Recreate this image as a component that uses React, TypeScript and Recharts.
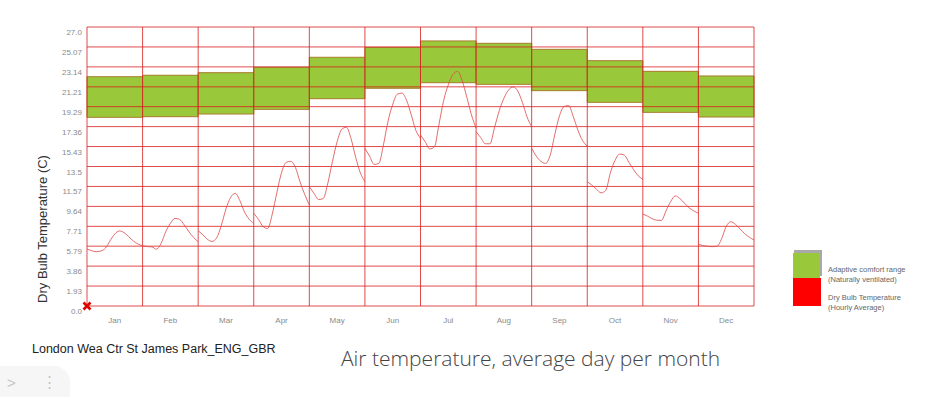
import {
  ComposedChart,
  Line,
  ReferenceArea,
  ReferenceDot,
  ReferenceLine,
  XAxis,
  YAxis,
} from "recharts";

const months = ["Jan", "Feb", "Mar", "Apr", "May", "Jun", "Jul", "Aug", "Sep", "Oct", "Nov", "Dec"];

// adaptive comfort band per month (C)
const comfortLow = [18.26, 18.32, 18.58, 19.03, 20.06, 21.07, 21.61, 21.45, 20.84, 19.71, 18.74, 18.29];
const comfortHigh = [22.19, 22.33, 22.58, 23.1, 24.07, 25.03, 25.65, 25.42, 24.84, 23.74, 22.71, 22.26];

const yTickLabels = ["0.0", "1.93", "3.86", "5.79", "7.71", "9.64", "11.57", "13.5", "15.43", "17.36", "19.29", "21.21", "23.14", "25.07", "27.0"];

// average day, read every 2 hours from 0h to 24h
const dayJan = [5.52, 5.35, 5.26, 5.32, 5.61, 6.32, 6.97, 7.26, 7.1, 6.71, 6.29, 6.0, 5.84];
const dayFeb = [5.84, 5.75, 5.72, 5.5, 6.06, 7.19, 8.0, 8.48, 8.38, 7.84, 7.19, 6.64, 6.22];
const dayMar = [7.29, 6.9, 6.45, 6.25, 6.6, 7.8, 9.4, 10.5, 10.9, 10.2, 9.1, 8.4, 8.0];
const dayApr = [8.97, 8.4, 7.7, 7.5, 8.9, 11.0, 12.9, 13.9, 14.0, 13.4, 12.0, 10.8, 9.77];
const dayMay = [11.55, 10.9, 10.3, 10.4, 11.9, 14.0, 15.9, 17.1, 17.3, 16.2, 14.4, 12.9, 12.03];
const dayJun = [15.26, 14.5, 13.7, 13.8, 15.6, 17.9, 19.5, 20.5, 20.6, 19.9, 18.5, 17.0, 16.23];
const dayJul = [16.55, 15.9, 15.2, 15.4, 17.6, 19.9, 21.4, 22.4, 22.7, 21.8, 20.2, 18.5, 17.2];
const dayAug = [16.87, 16.3, 15.7, 15.7, 17.3, 18.9, 20.1, 20.9, 21.2, 20.8, 19.7, 18.3, 17.35];
const daySep = [15.26, 14.5, 14.0, 13.8, 14.6, 16.6, 18.4, 19.3, 19.4, 18.3, 17.0, 16.0, 15.48];
const dayOct = [12.03, 11.7, 11.3, 10.95, 11.2, 12.9, 14.1, 14.7, 14.6, 13.9, 13.2, 12.6, 12.26];
const dayNov = [8.9, 8.7, 8.45, 8.3, 8.28, 9.2, 10.1, 10.65, 10.4, 9.95, 9.5, 9.2, 8.97];
const dayDec = [6.0, 5.85, 5.78, 5.74, 5.77, 6.5, 7.7, 8.15, 7.9, 7.45, 7.0, 6.65, 6.39];

const dayProfiles = [dayJan, dayFeb, dayMar, dayApr, dayMay, dayJun, dayJul, dayAug, daySep, dayOct, dayNov, dayDec];

// one row per reading, with a null after each month so the line breaks
const lineData: { x: number; t: number | null }[] = [];
dayProfiles.forEach((day, m) => {
  day.forEach((t, i) => lineData.push({ x: m + i / (day.length - 1), t }));
  lineData.push({ x: m + 1, t: null });
});

const GRID = "#d81e1e";
const FONT = "'Liberation Sans', Arial, sans-serif";

function YTick(props: any) {
  const { x, y, payload } = props;
  const label = yTickLabels.find((l) => Number(l) === payload.value) ?? String(payload.value);
  return (
    <text x={x} y={y + 8} textAnchor="end" fontSize={8} fill="#8a8a8a" fontFamily={FONT}>
      {label}
    </text>
  );
}

function Cross(props: any) {
  const { cx, cy } = props;
  return (
    <path
      d={`M${cx - 3.5},${cy - 3.5}L${cx + 3.5},${cy + 3.5}M${cx + 3.5},${cy - 3.5}L${cx - 3.5},${cy + 3.5}`}
      stroke="#dd0000"
      strokeWidth={2.6}
    />
  );
}

export default function App() {
  return (
    <div
      style={{
        position: "fixed",
        left: 0,
        top: 0,
        width: 940,
        height: 397,
        background: "#fff",
        overflow: "hidden",
        fontFamily: FONT,
      }}
    >
      <ComposedChart
        width={940}
        height={397}
        data={lineData}
        margin={{ top: 27, right: 186, bottom: 61, left: 0 }}
      >
        <XAxis
          dataKey="x"
          type="number"
          domain={[0, 12]}
          ticks={months.map((_, i) => i + 0.5)}
          interval={0}
          tickFormatter={(v) => months[Math.floor(Number(v))]}
          axisLine={false}
          tickLine={false}
          tickSize={0}
          tickMargin={11}
          height={30}
          tick={{ fontSize: 8, fill: "#8a8a8a", fontFamily: FONT }}
        />
        <YAxis
          type="number"
          domain={[0, 27]}
          ticks={yTickLabels.map(Number)}
          interval={0}
          axisLine={false}
          tickLine={false}
          tickSize={0}
          tickMargin={5}
          width={87}
          tick={<YTick />}
        />
        {months.map((mo, m) => (
          <ReferenceArea
            key={mo}
            x1={m}
            x2={m + 1}
            y1={comfortLow[m]}
            y2={comfortHigh[m]}
            fill="#99c93a"
            fillOpacity={1}
            stroke="#a87c2c"
            strokeWidth={1}
          />
        ))}
        {yTickLabels.map((lab) => (
          <ReferenceLine key={"h" + lab} y={Number(lab)} stroke={GRID} strokeOpacity={0.8} />
        ))}
        {[...months.keys(), 12].map((m) => (
          <ReferenceLine key={"v" + m} x={m} stroke={GRID} strokeOpacity={0.8} />
        ))}
        <Line
          dataKey="t"
          type="monotone"
          stroke="#dc4848"
          strokeOpacity={0.8}
          strokeWidth={1}
          dot={false}
          activeDot={false}
          isAnimationActive={false}
        />
        <ReferenceDot x={0} y={0} r={4} shape={<Cross />} />
      </ComposedChart>

      <div
        style={{
          position: "absolute",
          left: 42,
          top: 229,
          transform: "translate(-50%, -50%) rotate(-90deg)",
          fontSize: 13,
          color: "#333",
          whiteSpace: "nowrap",
        }}
      >
        Dry Bulb Temperature (C)
      </div>

      {/* legend */}
      <div style={{ position: "absolute", left: 794, top: 250, width: 28, height: 26, background: "#a9a9a9" }} />
      <div style={{ position: "absolute", left: 793, top: 253, width: 27, height: 25, background: "#99c93a" }} />
      <div style={{ position: "absolute", left: 793, top: 278, width: 28, height: 28, background: "#ff0000" }} />
      <div style={{ position: "absolute", left: 828, top: 265, fontSize: 7.5, lineHeight: "9.5px", color: "#666" }}>
        Adaptive comfort range
        <br />
        (Naturally ventilated)
      </div>
      <div style={{ position: "absolute", left: 828, top: 293, fontSize: 7.5, lineHeight: "9.5px", color: "#666" }}>
        Dry Bulb Temperature
        <br />
        (Hourly Average)
      </div>

      <div
        style={{
          position: "absolute",
          left: 32,
          top: 342,
          fontSize: 12.5,
          color: "#222",
          fontFamily: "'Liberation Sans Narrow', 'Liberation Sans', Arial, sans-serif",
          whiteSpace: "nowrap",
        }}
      >
        London Wea Ctr St James Park_ENG_GBR
      </div>
      <div
        style={{
          position: "absolute",
          left: 341,
          top: 344,
          fontSize: 21,
          color: "#444",
          fontFamily: "'Open Sans', sans-serif",
          fontWeight: 300,
          whiteSpace: "nowrap",
        }}
      >
        Air temperature, average day per month
      </div>

      <div
        style={{
          position: "absolute",
          left: -20,
          top: 366,
          width: 90,
          height: 50,
          borderRadius: 16,
          background: "#f6f6f6",
          color: "#c4c4c4",
          fontSize: 15,
        }}
      >
        <span style={{ position: "absolute", left: 27, top: 8 }}>&gt;</span>
        <span style={{ position: "absolute", left: 62, top: 7 }}>⋮</span>
      </div>
    </div>
  );
}
